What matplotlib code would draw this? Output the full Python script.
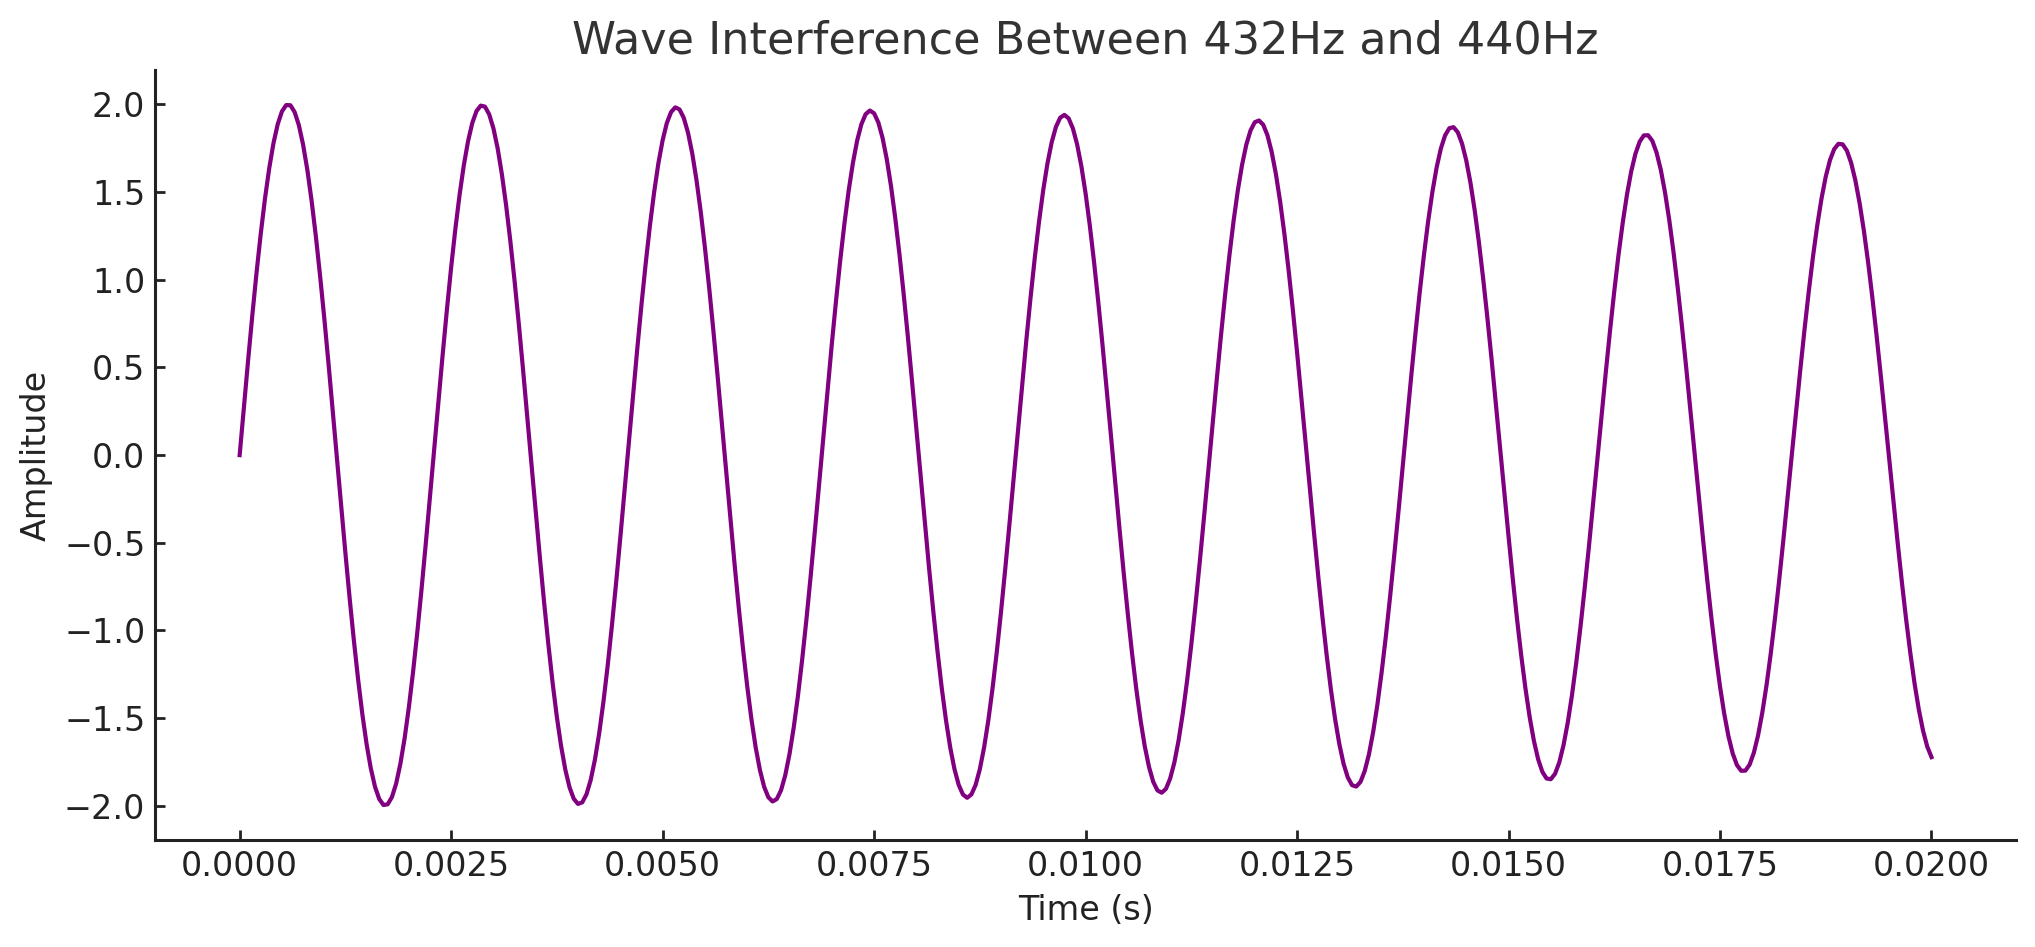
import numpy as np
import matplotlib
matplotlib.use("Agg")
import matplotlib.pyplot as plt

# amplitude, one sample every 0.05 ms from 0 to 20 ms
amplitude = [
    0.000, 0.273, 0.541, 0.799, 1.042, 1.265, 1.465, 1.637, 1.779, 1.887,
    1.960, 1.996, 1.995, 1.956, 1.881, 1.770, 1.627, 1.452, 1.251, 1.026,
    0.783, 0.524, 0.256, -0.018, -0.290, -0.558, -0.815, -1.056, -1.278, -1.476,
    -1.646, -1.785, -1.891, -1.961, -1.995, -1.991, -1.950, -1.873, -1.760, -1.615,
    -1.439, -1.236, -1.010, -0.765, -0.506, -0.238,
    0.035, 0.307, 0.574, 0.829, 1.070, 1.290, 1.485, 1.653, 1.790, 1.894,
    1.962, 1.993, 1.987, 1.943, 1.863, 1.749, 1.601, 1.424, 1.220, 0.993,
    0.748, 0.488, 0.220, -0.053, -0.324, -0.589, -0.844, -1.082, -1.300, -1.494,
    -1.659, -1.794, -1.895, -1.960, -1.989, -1.980, -1.934, -1.852, -1.736, -1.587,
    -1.408, -1.203, -0.975, -0.729, -0.470, -0.202,
    0.070, 0.340, 0.604, 0.857, 1.093, 1.309, 1.500, 1.664, 1.795, 1.894,
    1.956, 1.983, 1.971, 1.923, 1.839, 1.721, 1.570, 1.390, 1.184, 0.956,
    0.710, 0.451, 0.184, -0.087, -0.356, -0.618, -0.869, -1.103, -1.317, -1.506,
    -1.666, -1.795, -1.891, -1.951, -1.975, -1.961, -1.911, -1.825, -1.705, -1.553,
    -1.372, -1.165, -0.937, -0.691, -0.432, -0.166,
    0.104, 0.371, 0.632, 0.880, 1.112, 1.323, 1.510, 1.667, 1.794, 1.887,
    1.944, 1.965, 1.949, 1.897, 1.809, 1.687, 1.534, 1.352, 1.145, 0.917,
    0.671, 0.413, 0.148, -0.121, -0.386, -0.645, -0.891, -1.120, -1.329, -1.512,
    -1.667, -1.790, -1.880, -1.935, -1.954, -1.935, -1.881, -1.791, -1.668, -1.514,
    -1.331, -1.124, -0.896, -0.651, -0.394, -0.130,
    0.137, 0.401, 0.657, 0.900, 1.127, 1.332, 1.513, 1.665, 1.785, 1.872,
    1.924, 1.940, 1.920, 1.863, 1.772, 1.648, 1.493, 1.310, 1.102, 0.874,
    0.630, 0.374, 0.112, -0.153, -0.414, -0.668, -0.909, -1.133, -1.335, -1.512,
    -1.661, -1.778, -1.863, -1.912, -1.925, -1.903, -1.844, -1.752, -1.626, -1.470,
    -1.287, -1.080, -0.852, -0.609, -0.355, -0.094,
    0.168, 0.427, 0.678, 0.916, 1.137, 1.336, 1.510, 1.655, 1.770, 1.851,
    1.898, 1.908, 1.884, 1.824, 1.729, 1.603, 1.446, 1.263, 1.056, 0.830,
    0.588, 0.335, 0.076, -0.183, -0.440, -0.688, -0.922, -1.140, -1.336, -1.506,
    -1.648, -1.760, -1.838, -1.882, -1.890, -1.863, -1.801, -1.706, -1.578, -1.422,
    -1.238, -1.032, -0.807, -0.566, -0.316, -0.059,
    0.198, 0.451, 0.696, 0.928, 1.141, 1.334, 1.501, 1.640, 1.748, 1.823,
    1.864, 1.870, 1.841, 1.777, 1.681, 1.553, 1.396, 1.213, 1.007, 0.783,
    0.545, 0.296, 0.042, -0.212, -0.462, -0.704, -0.932, -1.142, -1.330, -1.494,
    -1.629, -1.734, -1.806, -1.844, -1.848, -1.817, -1.752, -1.654, -1.526, -1.369,
    -1.186, -0.982, -0.759, -0.523, -0.277, -0.026,
    0.226, 0.473, 0.710, 0.934, 1.141, 1.325, 1.485, 1.617, 1.718, 1.787,
    1.823, 1.824, 1.792, 1.725, 1.627, 1.498, 1.341, 1.159, 0.956, 0.735,
    0.501, 0.257, 0.009, -0.239, -0.482, -0.716, -0.936, -1.138, -1.319, -1.475,
    -1.603, -1.701, -1.767, -1.800, -1.799, -1.765, -1.697, -1.598, -1.468, -1.312,
    -1.131, -0.930, -0.711, -0.479, -0.238, 0.007,
    0.251, 0.490, 0.720, 0.936, 1.135, 1.311, 1.463, 1.588, 1.682, 1.745,
    1.775, 1.772, 1.736, 1.667, 1.567, 1.438, 1.282, 1.103, 0.903, 0.686,
    0.457, 0.219, -0.022, -0.263, -0.498, -0.724, -0.936, -1.129, -1.302, -1.450,
    -1.571, -1.662, -1.722,
]
t_start = 0.0
t_end = 0.02
time_s = np.linspace(t_start, t_end, len(amplitude))

plt.rcParams['font.family'] = 'DejaVu Sans'
plt.rcParams['axes.edgecolor'] = '#222222'
plt.rcParams['xtick.color'] = '#222222'
plt.rcParams['ytick.color'] = '#222222'

fig, ax = plt.subplots(figsize=(10.175, 4.735), dpi=200)
fig.subplots_adjust(left=0.0762, right=0.9907, top=0.926, bottom=0.113)

ax.plot(time_s, amplitude, color='purple', linewidth=1.5)

ax.set_title('Wave Interference Between 432Hz and 440Hz', fontsize=16, color='#333333')
ax.set_xlabel('Time (s)', fontsize=12, color='#222222')
ax.set_ylabel('Amplitude', fontsize=12, color='#222222')

ax.spines['top'].set_visible(False)
ax.spines['right'].set_visible(False)
ax.spines['left'].set_linewidth(1.1)
ax.spines['bottom'].set_linewidth(1.1)
ax.tick_params(direction='in', labelsize=12, length=3.5, width=1.0)

fig.savefig('out.png', dpi=200)
